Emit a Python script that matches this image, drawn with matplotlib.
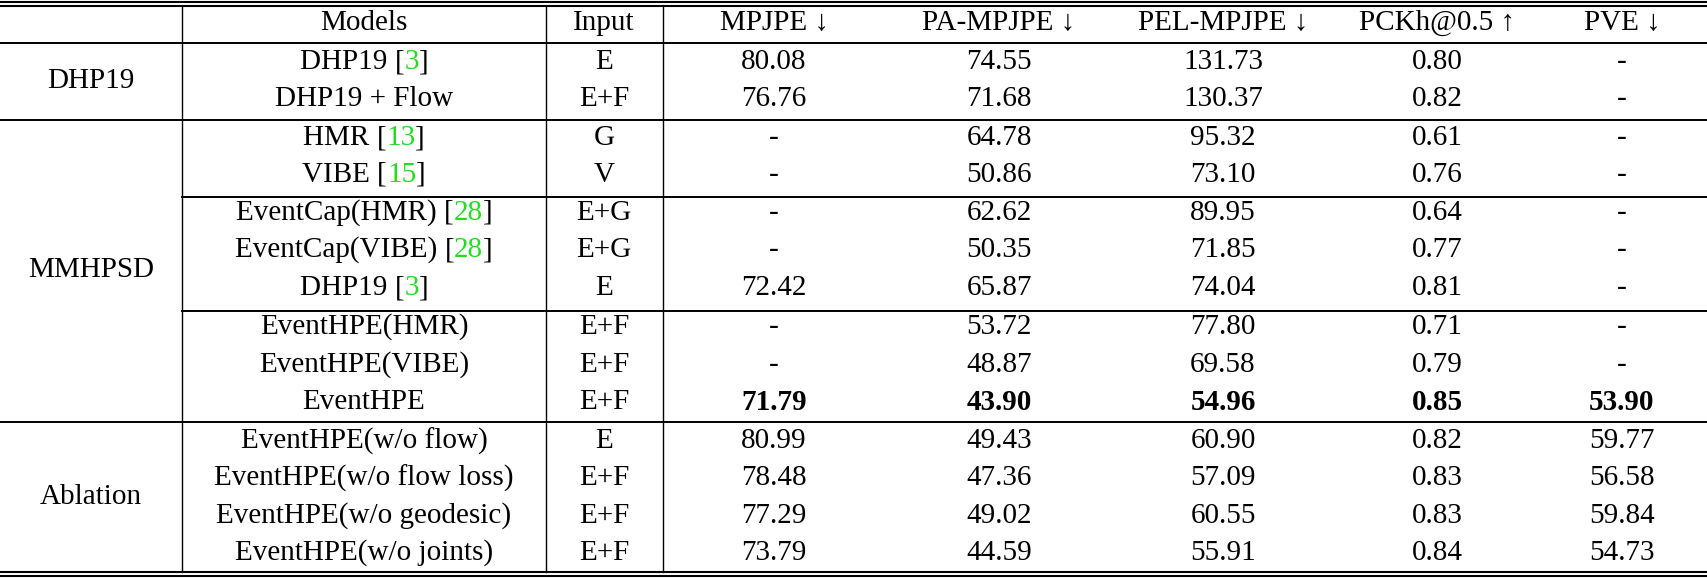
import matplotlib
matplotlib.use("Agg")
import matplotlib.pyplot as plt

FAM = ['Liberation Serif', 'DejaVu Serif']
FS = 21
GREEN = '#22dd22'

headers = ["", "Models", "Input", "MPJPE ↓", "PA-MPJPE ↓", "PEL-MPJPE ↓", "PCKh@0.5 ↑", "PVE ↓"]
groups = [("DHP19", 0, 1), ("MMHPSD", 2, 9), ("Ablation", 10, 13)]
models = [("DHP19 ", "3"), ("DHP19 + Flow", None), ("HMR ", "13"), ("VIBE ", "15"),
          ("EventCap(HMR) ", "28"), ("EventCap(VIBE) ", "28"), ("DHP19 ", "3"),
          ("EventHPE(HMR)", None), ("EventHPE(VIBE)", None), ("EventHPE", None),
          ("EventHPE(w/o flow)", None), ("EventHPE(w/o flow loss)", None),
          ("EventHPE(w/o geodesic)", None), ("EventHPE(w/o joints)", None)]
inputs = ["E", "E+F", "G", "V", "E+G", "E+G", "E", "E+F", "E+F", "E+F", "E", "E+F", "E+F", "E+F"]
mpjpe = ["80.08", "76.76", "-", "-", "-", "-", "72.42", "-", "-", "71.79", "80.99", "78.48", "77.29", "73.79"]
pa_mpjpe = ["74.55", "71.68", "64.78", "50.86", "62.62", "50.35", "65.87", "53.72", "48.87", "43.90", "49.43", "47.36", "49.02", "44.59"]
pel_mpjpe = ["131.73", "130.37", "95.32", "73.10", "89.95", "71.85", "74.04", "77.80", "69.58", "54.96", "60.90", "57.09", "60.55", "55.91"]
pckh = ["0.80", "0.82", "0.61", "0.76", "0.64", "0.77", "0.81", "0.71", "0.79", "0.85", "0.82", "0.83", "0.83", "0.84"]
pve = ["-", "-", "-", "-", "-", "-", "-", "-", "-", "53.90", "59.77", "56.58", "59.84", "54.73"]
bold_row = 9

W, H = 1707, 578
fig = plt.figure(figsize=(W / 100, H / 100), dpi=100)
ax = fig.add_axes([0, 0, 1, 1])
ax.set_xlim(0, W)
ax.set_ylim(H, 0)
ax.axis('off')

col_x = [56, 364, 604, 774, 999, 1223, 1437, 1622]
vlines = [182, 546, 663]
header_y = 23
row_y = [62, 99, 138, 175, 213, 250, 288, 327, 365, 402, 441, 478, 516, 553]

def txt(x, y, s, **kw):
    return ax.text(x, y, s, ha='center', va='center', family=FAM, fontsize=FS, **kw)

for i, h in enumerate(headers):
    txt(col_x[i], header_y, h)

renderer = fig.canvas.get_renderer()
inv = ax.transData.inverted()

def width_of(s):
    t = ax.text(0, 0, s, family=FAM, fontsize=FS)
    bb = t.get_window_extent(renderer)
    t.remove()
    return bb.width

for r, (name, ref) in enumerate(models):
    y = row_y[r]
    if ref is None:
        txt(col_x[1], y, name)
    else:
        parts = [(name, 'black'), ('[', 'black'), (ref, GREEN), (']', 'black')]
        total = sum(width_of(p) for p, _ in parts)
        x = col_x[1] - total / 2
        for p, c in parts:
            ax.text(x, y, p, ha='left', va='center', family=FAM, fontsize=FS, color=c)
            x += width_of(p)
    txt(col_x[2], y, inputs[r])
    for ci, arr in zip(range(3, 8), [mpjpe, pa_mpjpe, pel_mpjpe, pckh, pve]):
        txt(col_x[ci], y, arr[r], fontweight='bold' if r == bold_row else 'normal')

for g, a, b in groups:
    txt(91, (row_y[a] + row_y[b]) / 2, g)

# horizontal rules
lw = 1.4
for y in (2, 6, 572, 576):
    ax.plot([0, W], [y, y], color='black', lw=1.5)
ax.plot([0, W], [43, 43], color='black', lw=lw)
ax.plot([0, W], [120, 120], color='black', lw=lw)
ax.plot([vlines[0], W], [197, 197], color='black', lw=lw)
ax.plot([vlines[0], W], [311, 311], color='black', lw=lw)
ax.plot([0, W], [422, 422], color='black', lw=lw)
for x in vlines:
    ax.plot([x, x], [6, 572], color='black', lw=1.0)

fig.savefig("out.png", dpi=100)
